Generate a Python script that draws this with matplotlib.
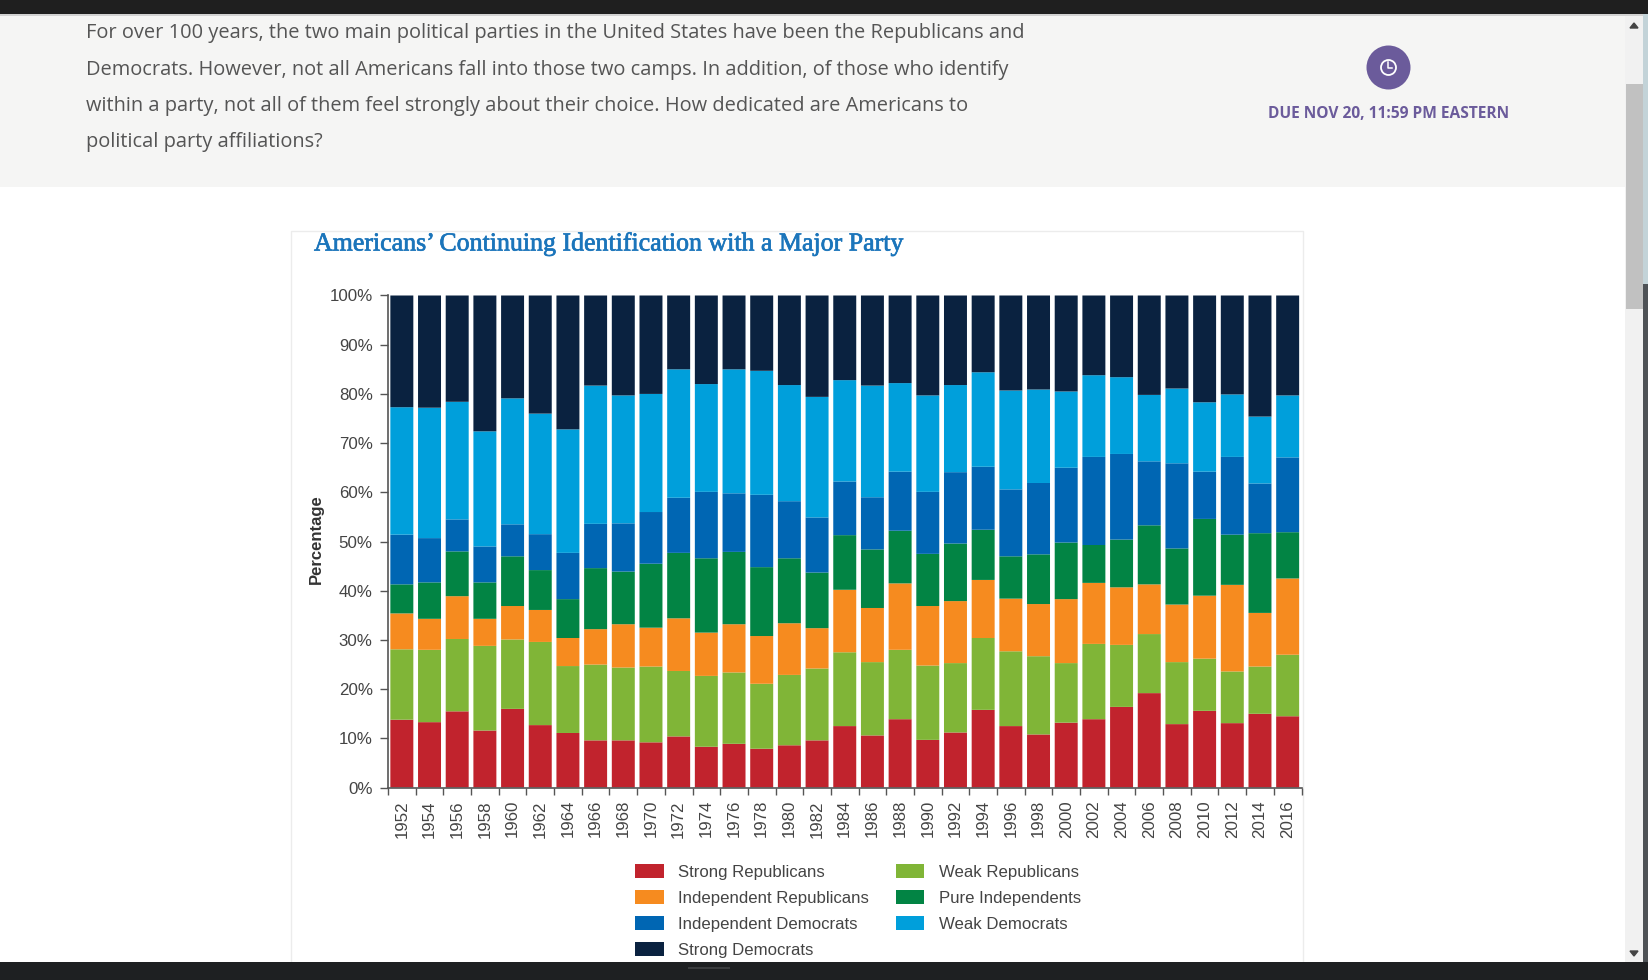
import matplotlib
matplotlib.use("Agg")
import matplotlib.pyplot as plt
import matplotlib.patheffects as pe
import numpy as np
from matplotlib.patches import Circle, Rectangle

years = [str(y) for y in range(1952, 2018, 2)]

strong_rep = [13.8, 13.3, 15.5, 11.6, 16.0, 12.7, 11.1, 9.6, 9.6, 9.2, 10.4, 8.3, 8.9, 7.9, 8.6, 9.6, 12.5,
              10.6, 13.9, 9.7, 11.2, 15.8, 12.5, 10.8, 13.2, 13.9, 16.4, 19.2, 12.9, 15.6, 13.1, 15.0, 14.5]
weak_rep = [14.3, 14.7, 14.7, 17.2, 14.1, 16.9, 13.6, 15.4, 14.8, 15.4, 13.3, 14.4, 14.5, 13.2, 14.3, 14.6, 15.0,
            14.9, 14.1, 15.1, 14.1, 14.6, 15.2, 15.9, 12.1, 15.3, 12.6, 12.0, 12.6, 10.6, 10.5, 9.6, 12.5]
indep_rep = [7.3, 6.3, 8.7, 5.5, 6.8, 6.5, 5.7, 7.2, 8.8, 7.9, 10.7, 8.8, 9.8, 9.7, 10.5, 8.2, 12.7,
             11.0, 13.5, 12.1, 12.6, 11.8, 10.7, 10.6, 13.0, 12.4, 11.7, 10.1, 11.7, 12.8, 17.6, 10.9, 15.5]
pure_indep = [5.9, 7.4, 9.1, 7.4, 10.1, 8.1, 7.9, 12.4, 10.7, 13.0, 13.3, 15.1, 14.7, 14.0, 13.2, 11.3, 11.1,
              11.9, 10.7, 10.6, 11.7, 10.2, 8.6, 10.1, 11.5, 7.7, 9.7, 12.0, 11.4, 15.6, 10.2, 16.2, 9.4]
indep_dem = [10.1, 9.0, 6.5, 7.3, 6.5, 7.3, 9.4, 9.0, 9.8, 10.5, 11.2, 13.5, 11.9, 14.7, 11.6, 11.2, 10.9,
             10.6, 12.0, 12.6, 14.5, 12.8, 13.6, 14.5, 15.2, 17.9, 17.4, 13.0, 17.3, 9.6, 15.8, 10.1, 15.2]
weak_dem = [25.9, 26.5, 23.9, 23.4, 25.6, 24.5, 25.1, 28.1, 26.0, 24.0, 26.1, 21.9, 25.2, 25.2, 23.6, 24.5, 20.6,
            22.7, 18.0, 19.6, 17.7, 19.2, 20.1, 19.0, 15.5, 16.6, 15.6, 13.5, 15.2, 14.1, 12.7, 13.6, 12.6]
strong_dem = [22.7, 22.8, 21.6, 27.6, 20.9, 24.0, 27.2, 18.3, 20.3, 20.0, 15.0, 18.0, 15.0, 15.3, 18.2, 20.6, 17.2,
              18.3, 17.8, 20.3, 18.2, 15.6, 19.3, 19.1, 19.5, 16.2, 16.6, 20.2, 18.9, 21.7, 20.1, 24.6, 20.3]

series_names = ["Strong Republicans", "Weak Republicans", "Independent Republicans", "Pure Independents",
                "Independent Democrats", "Weak Democrats", "Strong Democrats"]
series_values = [strong_rep, weak_rep, indep_rep, pure_indep, indep_dem, weak_dem, strong_dem]
series_colors = ["#c1232d", "#80b537", "#f68b1f", "#028444", "#0066b3", "#009fdb", "#0a2240"]

paragraph = ["For over 100 years, the two main political parties in the United States have been the Republicans and",
             "Democrats. However, not all Americans fall into those two camps. In addition, of those who identify",
             "within a party, not all of them feel strongly about their choice. How dedicated are Americans to",
             "political party affiliations?"]

W, H = 1649, 980
fig = plt.figure(figsize=(W / 100, H / 100), dpi=100, facecolor="white")

# page furniture is drawn in pixel coordinates on a full size axes
page = fig.add_axes([0, 0, 1, 1], zorder=0)
page.set_xlim(0, W)
page.set_ylim(H, 0)
page.axis("off")

page.add_patch(Rectangle((0, 14), 1625, 173, fc="#f5f5f4", ec="none"))
page.add_patch(Rectangle((291.5, 231), 1012, 740, fc="white", ec="#ececec", lw=1))

for i, line in enumerate(paragraph):
    page.text(86, 33.4 + i * 36.1, line, family="Open Sans", fontsize=14.45, color="#555555", va="center", ha="left")

page.add_patch(Circle((1388.5, 67.5), 22, fc="#6b5b9b", ec="none"))
page.add_patch(Circle((1388.5, 67.5), 7.5, fc="none", ec="white", lw=1.3))
page.plot([1388.5, 1388.5, 1392.5], [62.5, 68, 68], color="white", lw=1.1)
page.text(1389, 113.5, "DUE NOV 20, 11:59 PM EASTERN", family="Open Sans", fontweight="bold", fontsize=11.2,
          color="#6b5b9b", ha="center", va="center")

title = page.text(314, 244, "Americans\u2019 Continuing Identification with a Major Party", family="Liberation Serif",
                  fontsize=18.65, color="#1b75bb", ha="left", va="center")
title.set_path_effects([pe.withStroke(linewidth=0.5, foreground="#1b75bb")])

# the chart
ax_left, ax_right = 388, 1301.5
ax = fig.add_axes([ax_left / W, 1 - 787.6 / H, (ax_right - ax_left) / W, (787.6 - 295.5) / H], zorder=1)
ax.patch.set_alpha(0)
x = np.arange(len(years))
bottom = np.zeros(len(years))
handles = []
for name, vals, col in zip(series_names, series_values, series_colors):
    bars = ax.bar(x, vals, bottom=bottom, width=0.83, color=col, label=name, linewidth=0, snap=False)
    handles.append(bars)
    bottom += np.array(vals)

ax.set_xlim(-0.5, len(years) - 0.5)
ax.set_ylim(0, 100)
ax.set_yticks(range(0, 101, 10))
ax.set_yticklabels([f"{v}%" for v in range(0, 101, 10)], family="Liberation Sans", fontsize=12.2, color="#444444")
ax.set_xticks(np.arange(len(years) + 1) - 0.5)
ax.set_xticklabels([])
ax.set_xticks(x, minor=True)
ax.set_xticklabels(years, minor=True, rotation=90, family="Liberation Sans", fontsize=12.2, color="#444444")
ax.tick_params(axis="y", length=6, width=1, color="#555555", pad=5)
ax.tick_params(axis="x", which="major", length=5, width=1, color="#555555")
ax.tick_params(axis="x", which="minor", length=0, pad=9)
for side in ["top", "right"]:
    ax.spines[side].set_visible(False)
for side in ["left", "bottom"]:
    ax.spines[side].set_color("#555555")
    ax.spines[side].set_linewidth(1.2)
ax.set_ylabel("Percentage", family="Liberation Sans", fontweight="bold", fontsize=12, color="#333333", labelpad=0)
ax.yaxis.set_label_coords((323.5 - ax_left) / (ax_right - ax_left), 0.505)

# matplotlib fills legend columns first, so this order reads row by row like the original
order = [0, 2, 4, 6, 1, 3, 5]
leg = fig.legend([handles[i] for i in order], [series_names[i] for i in order], ncol=2, frameon=False,
                 loc="upper left", bbox_to_anchor=(635 / W, 1 - 864 / H), prop={"family": "Liberation Sans", "size": 12.1},
                 labelcolor="#444444", handlelength=1.7, handleheight=0.95, handletextpad=0.87, labelspacing=0.585,
                 columnspacing=1.58, borderpad=0, borderaxespad=0)

# browser chrome on top of everything
top = fig.add_axes([0, 0, 1, 1], zorder=2)
top.set_xlim(0, W)
top.set_ylim(H, 0)
top.axis("off")
top.add_patch(Rectangle((0, 0), W, 14, fc="#1f1f1f", ec="none"))
top.add_patch(Rectangle((0, 14), 1643, 2, fc="#d2d2d2", ec="none"))
top.add_patch(Rectangle((0, 962), W, 18, fc="#1e2022", ec="none"))
top.add_patch(Rectangle((1625, 16), 18, 946, fc="#f1f1f1", ec="none"))
top.add_patch(Rectangle((1626, 84), 17, 225, fc="#c1c1c1", ec="none"))
top.add_patch(Rectangle((1643, 14), 6, 270, fc="#c3d3d8", ec="none"))
top.add_patch(Rectangle((1643, 284), 6, 678, fc="#4e5256", ec="none"))
top.fill([1630, 1638, 1634], [28, 28, 23], color="#444444")
top.fill([1630, 1638, 1634], [951, 951, 956], color="#444444")
top.add_patch(Rectangle((688, 967), 42, 2, fc="#3a3c3e", ec="none"))

fig.savefig("out.png", dpi=100)
